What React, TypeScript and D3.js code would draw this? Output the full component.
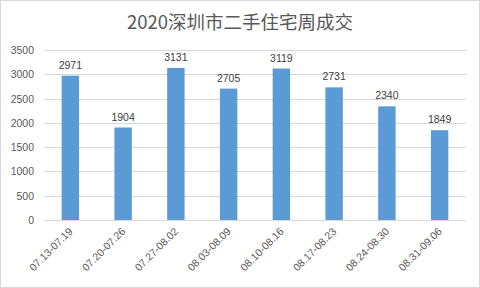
import React from "react";
import * as d3 from "d3";

const categories = ["07.13-07.19", "07.20-07.26", "07.27-08.02", "08.03-08.09", "08.10-08.16", "08.17-08.23", "08.24-08.30", "08.31-09.06"];
const values = [2971, 1904, 3131, 2705, 3119, 2731, 2340, 1849];
const yTicks = [0, 500, 1000, 1500, 2000, 2500, 3000, 3500];
const title = "2020深圳市二手住宅周成交";

const W = 480, H = 288;
const left = 44, right = 466, top = 50, bottom = 220;
const font = "'Liberation Sans', 'Noto Sans CJK SC', sans-serif";

export default function App() {
  const x = d3.scaleBand<string>().domain(categories).range([left, right]).paddingInner(0.67).paddingOuter(0.335);
  const y = d3.scaleLinear().domain([0, 3500]).range([bottom, top]);
  return (
    <svg width={W} height={H} style={{ position: "absolute", left: 0, top: 0 }} fontFamily={font}>
      <rect x={0.5} y={0.5} width={W - 1} height={H - 1} fill="#fff" stroke="#D9D9D9" />
      <text x={240} y={29} textAnchor="middle" fontSize={18.5} fill="#595959" fontFamily="'Noto Sans CJK SC', sans-serif">{title}</text>
      {yTicks.map((t) => (
        <g key={t}>
          <line x1={left} x2={right} y1={Math.round(y(t)) + 0.5} y2={Math.round(y(t)) + 0.5} stroke="#D9D9D9" />
          <text x={34} y={y(t) + 4} textAnchor="end" fontSize={10.5} fill="#595959">{t}</text>
        </g>
      ))}
      {categories.map((c, i) => {
        const bx = x(c)!;
        const bw = x.bandwidth();
        const cx = bx + bw / 2;
        return (
          <g key={c}>
            <rect x={bx} y={y(values[i])} width={bw} height={bottom - y(values[i])} fill="#5B9BD5" />
            <text x={cx} y={y(values[i]) - 7} textAnchor="middle" fontSize={10.5} fill="#404040">{values[i]}</text>
            <text transform={`translate(${cx + 3},${bottom + 12}) rotate(-45)`} textAnchor="end" fontSize={10.5} fill="#595959">{c}</text>
          </g>
        );
      })}
    </svg>
  );
}
